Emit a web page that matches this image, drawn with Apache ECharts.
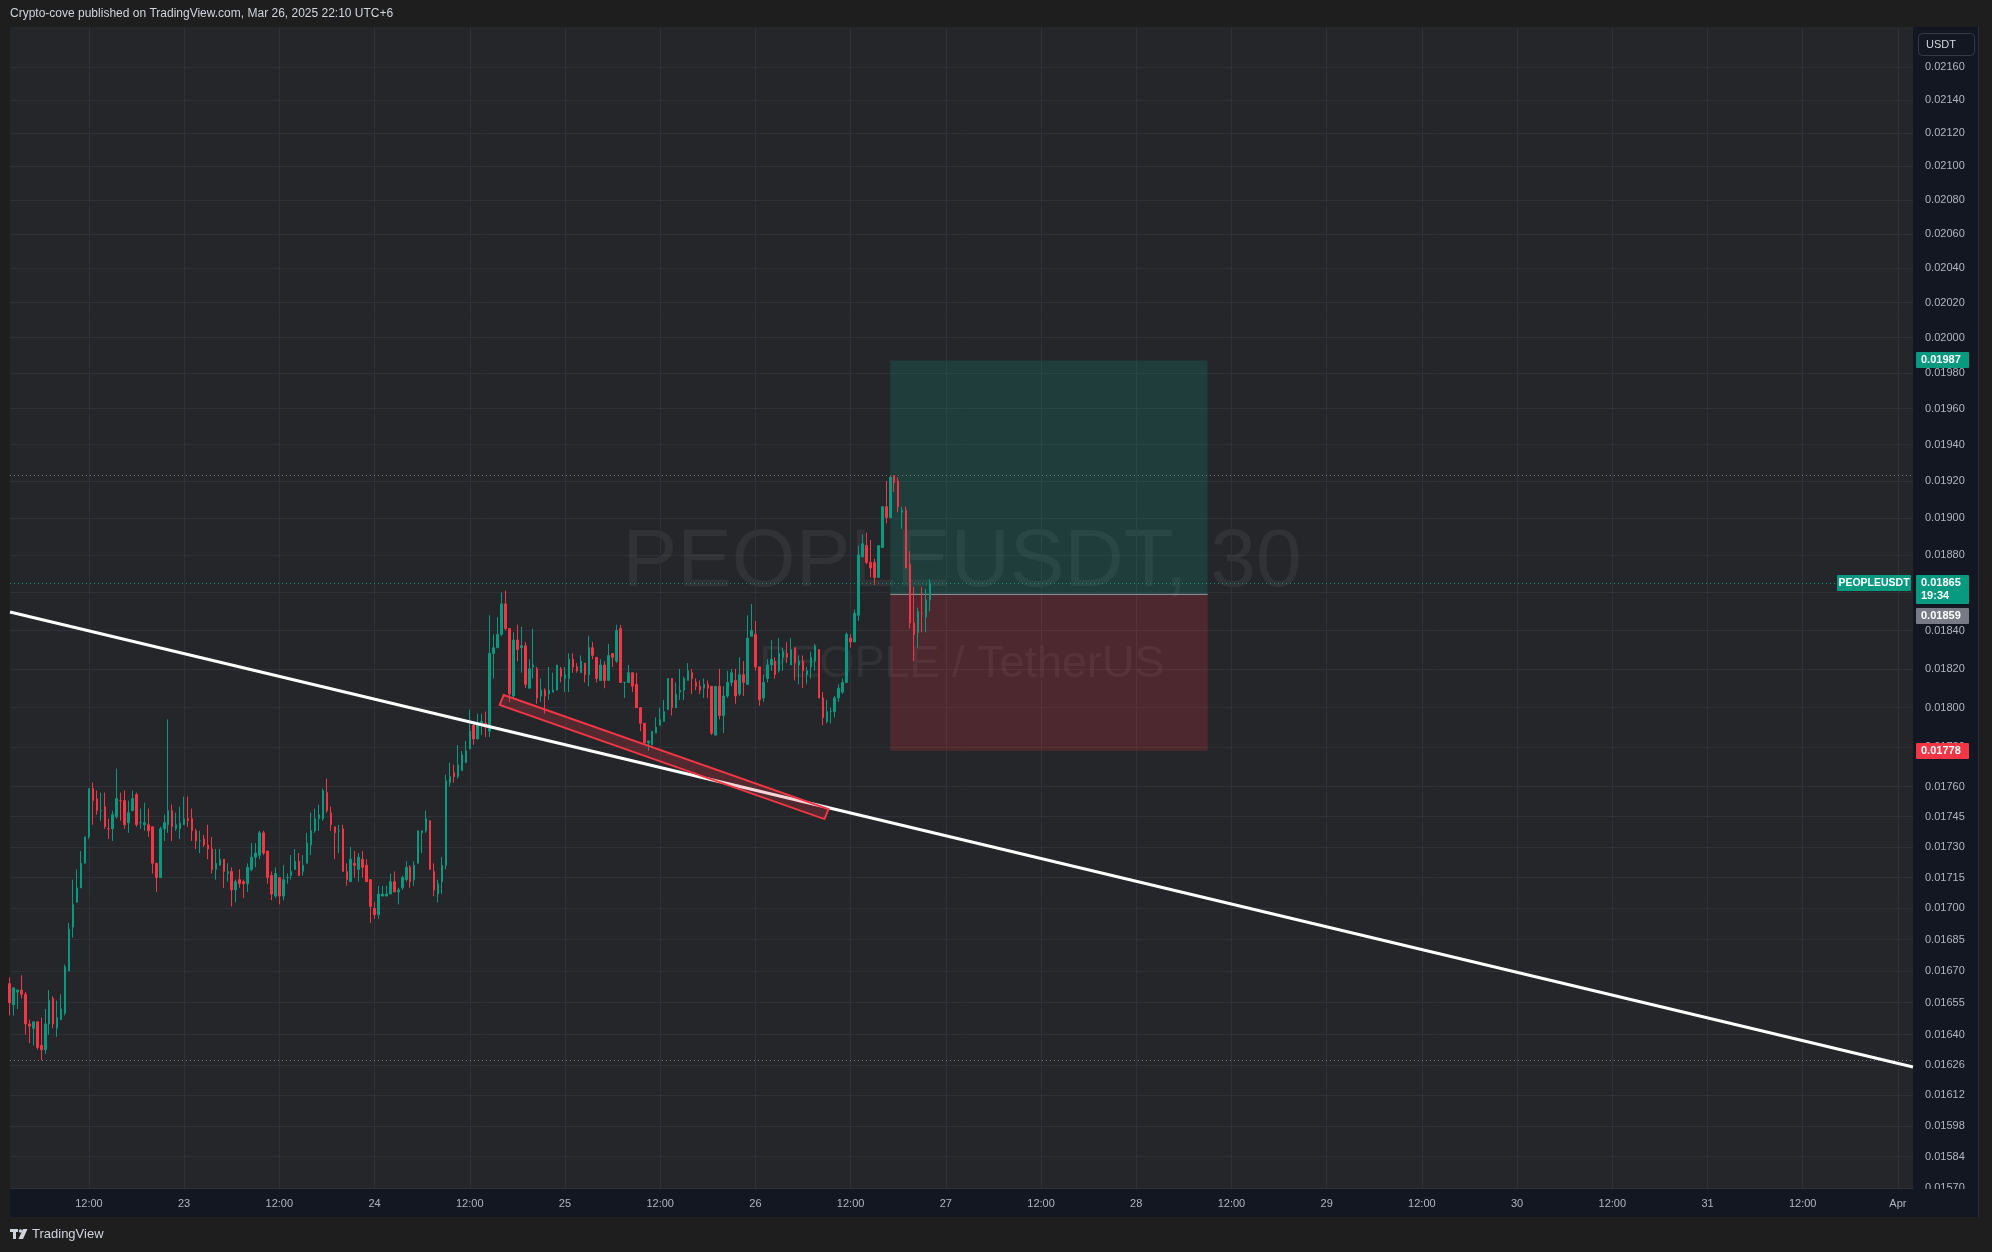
<!DOCTYPE html>
<html><head><meta charset="utf-8">
<script src="https://cdn.jsdelivr.net/npm/echarts@6/dist/echarts.min.js"></script>
<style>html,body{margin:0;padding:0;background:#1e1e1e;}#c{width:1992px;height:1252px;}</style>
</head><body><div id="c"></div>
<script>
// ---- DATA ----
// bars are 30-minute slots counted from 2025-03-22 00:00 (UTC+6)
const firstBar = 4;
const opens = [
0.01664,0.01654,0.01660,0.01661,0.01659,0.01645,0.01643,0.01646,0.01635,0.01633,
0.01645,0.01657,0.01643,0.01647,0.01650,0.01670,0.01691,0.01703,0.01710,0.01722,
0.01735,0.01759,0.01754,0.01748,0.01750,0.01739,0.01739,0.01745,0.01753,0.01753,
0.01742,0.01748,0.01756,0.01742,0.01741,0.01741,0.01740,0.01722,0.01715,0.01739,
0.01741,0.01748,0.01739,0.01739,0.01741,0.01744,0.01744,0.01738,0.01733,0.01734,
0.01731,0.01729,0.01719,0.01721,0.01724,0.01717,0.01718,0.01709,0.01714,0.01713,
0.01712,0.01719,0.01725,0.01726,0.01737,0.01728,0.01716,0.01706,0.01715,0.01706,
0.01715,0.01716,0.01719,0.01723,0.01718,0.01722,0.01731,0.01738,0.01744,0.01744,
0.01757,0.01747,0.01740,0.01738,0.01739,0.01718,0.01713,0.01722,0.01719,0.01724,
0.01721,0.01714,0.01700,0.01697,0.01706,0.01706,0.01707,0.01713,0.01708,0.01710,
0.01714,0.01720,0.01714,0.01722,0.01737,0.01738,0.01743,0.01718,0.01707,0.01713,
0.01721,0.01762,0.01767,0.01765,0.01768,0.01772,0.01779,0.01791,0.01784,0.01792,
0.01792,0.01788,0.01828,0.01831,0.01838,0.01854,0.01841,0.01806,0.01835,0.01831,
0.01832,0.01810,0.01821,0.01820,0.01806,0.01809,0.01807,0.01808,0.01809,0.01820,
0.01815,0.01815,0.01825,0.01821,0.01818,0.01823,0.01817,0.01831,0.01826,0.01814,
0.01822,0.01814,0.01828,0.01824,0.01841,0.01813,0.01813,0.01818,0.01812,0.01800,
0.01792,0.01782,0.01781,0.01787,0.01791,0.01793,0.01799,0.01815,0.01800,0.01808,
0.01809,0.01814,0.01818,0.01813,0.01811,0.01810,0.01812,0.01811,0.01786,0.01811,
0.01796,0.01806,0.01813,0.01814,0.01807,0.01817,0.01812,0.01837,0.01838,0.01821,
0.01805,0.01815,0.01822,0.01824,0.01819,0.01826,0.01828,0.01822,0.01831,0.01822,
0.01824,0.01817,0.01821,0.01824,0.01830,0.01805,0.01793,0.01798,0.01798,0.01805,
0.01808,0.01813,0.01836,0.01834,0.01848,0.01879,0.01885,0.01876,0.01876,0.01868,
0.01884,0.01906,0.01900,0.01923,0.01920,0.01903,0.01904,0.01875,0.01844,0.01839,
0.01849,0.01847,0.01856];
const highs = [
0.01667,0.01662,0.01661,0.01668,0.01660,0.01647,0.01646,0.01646,0.01648,0.01652,
0.01661,0.01658,0.01656,0.01659,0.01673,0.01693,0.01714,0.01719,0.01728,0.01735,
0.01759,0.01762,0.01758,0.01757,0.01757,0.01744,0.01748,0.01769,0.01757,0.01758,
0.01753,0.01758,0.01757,0.01749,0.01752,0.01749,0.01740,0.01722,0.01740,0.01746,
0.01794,0.01751,0.01747,0.01750,0.01755,0.01755,0.01749,0.01739,0.01738,0.01736,
0.01741,0.01735,0.01729,0.01729,0.01724,0.01722,0.01720,0.01714,0.01719,0.01714,
0.01722,0.01732,0.01732,0.01738,0.01738,0.01728,0.01718,0.01720,0.01715,0.01721,
0.01717,0.01726,0.01729,0.01727,0.01726,0.01737,0.01747,0.01749,0.01751,0.01759,
0.01764,0.01750,0.01740,0.01741,0.01741,0.01722,0.01730,0.01728,0.01727,0.01728,
0.01724,0.01714,0.01703,0.01711,0.01711,0.01711,0.01717,0.01718,0.01710,0.01716,
0.01723,0.01721,0.01723,0.01738,0.01738,0.01748,0.01743,0.01722,0.01714,0.01725,
0.01766,0.01772,0.01771,0.01781,0.01778,0.01783,0.01799,0.01793,0.01797,0.01797,
0.01798,0.01848,0.01838,0.01847,0.01860,0.01861,0.01841,0.01839,0.01843,0.01842,
0.01834,0.01825,0.01841,0.01821,0.01815,0.01810,0.01821,0.01818,0.01822,0.01821,
0.01821,0.01828,0.01828,0.01823,0.01827,0.01823,0.01837,0.01834,0.01826,0.01825,
0.01824,0.01833,0.01828,0.01843,0.01843,0.01813,0.01822,0.01818,0.01818,0.01800,
0.01792,0.01783,0.01788,0.01795,0.01800,0.01804,0.01815,0.01815,0.01813,0.01820,
0.01816,0.01823,0.01820,0.01815,0.01814,0.01815,0.01814,0.01811,0.01811,0.01820,
0.01811,0.01819,0.01820,0.01820,0.01826,0.01824,0.01848,0.01854,0.01845,0.01821,
0.01817,0.01825,0.01835,0.01826,0.01836,0.01831,0.01834,0.01836,0.01831,0.01827,
0.01827,0.01821,0.01829,0.01833,0.01830,0.01808,0.01804,0.01800,0.01806,0.01812,
0.01815,0.01839,0.01838,0.01851,0.01885,0.01891,0.01892,0.01888,0.01878,0.01885,
0.01906,0.01920,0.01923,0.01923,0.01922,0.01906,0.01906,0.01882,0.01863,0.01852,
0.01863,0.01862,0.01867];
const lows = [
0.01649,0.01649,0.01652,0.01657,0.01640,0.01636,0.01635,0.01633,0.01628,0.01631,
0.01640,0.01643,0.01639,0.01647,0.01649,0.01670,0.01686,0.01703,0.01710,0.01722,
0.01734,0.01741,0.01746,0.01743,0.01739,0.01734,0.01733,0.01744,0.01743,0.01739,
0.01737,0.01748,0.01740,0.01739,0.01738,0.01735,0.01717,0.01708,0.01715,0.01733,
0.01737,0.01733,0.01738,0.01734,0.01741,0.01740,0.01733,0.01729,0.01727,0.01730,
0.01724,0.01717,0.01714,0.01721,0.01710,0.01713,0.01701,0.01703,0.01710,0.01705,
0.01708,0.01718,0.01720,0.01724,0.01726,0.01712,0.01704,0.01705,0.01702,0.01704,
0.01712,0.01714,0.01719,0.01716,0.01716,0.01722,0.01726,0.01737,0.01738,0.01743,
0.01747,0.01738,0.01724,0.01727,0.01718,0.01711,0.01713,0.01715,0.01713,0.01715,
0.01713,0.01693,0.01695,0.01695,0.01706,0.01706,0.01707,0.01708,0.01702,0.01709,
0.01713,0.01710,0.01711,0.01722,0.01727,0.01737,0.01719,0.01706,0.01703,0.01707,
0.01719,0.01760,0.01762,0.01764,0.01768,0.01772,0.01779,0.01781,0.01784,0.01786,
0.01785,0.01785,0.01815,0.01831,0.01837,0.01840,0.01803,0.01805,0.01824,0.01818,
0.01810,0.01810,0.01815,0.01802,0.01803,0.01797,0.01804,0.01808,0.01809,0.01813,
0.01808,0.01808,0.01818,0.01818,0.01818,0.01813,0.01811,0.01825,0.01813,0.01814,
0.01810,0.01814,0.01821,0.01823,0.01813,0.01805,0.01813,0.01808,0.01800,0.01788,
0.01782,0.01778,0.01781,0.01787,0.01791,0.01793,0.01799,0.01796,0.01800,0.01804,
0.01804,0.01814,0.01807,0.01809,0.01807,0.01805,0.01805,0.01786,0.01786,0.01794,
0.01787,0.01805,0.01811,0.01802,0.01806,0.01806,0.01812,0.01837,0.01819,0.01801,
0.01803,0.01813,0.01819,0.01815,0.01818,0.01819,0.01823,0.01822,0.01814,0.01812,
0.01810,0.01812,0.01815,0.01819,0.01805,0.01791,0.01792,0.01792,0.01795,0.01803,
0.01807,0.01813,0.01831,0.01834,0.01845,0.01879,0.01875,0.01868,0.01864,0.01868,
0.01884,0.01897,0.01900,0.01914,0.01903,0.01894,0.01873,0.01841,0.01824,0.01831,
0.01839,0.01839,0.01850];
const closes = [
0.01655,0.01662,0.01661,0.01659,0.01645,0.01644,0.01646,0.01634,0.01633,0.01645,
0.01656,0.01645,0.01648,0.01652,0.01672,0.01690,0.01702,0.01710,0.01722,0.01735,
0.01759,0.01753,0.01748,0.01748,0.01740,0.01739,0.01746,0.01754,0.01753,0.01741,
0.01747,0.01754,0.01741,0.01742,0.01742,0.01738,0.01722,0.01715,0.01739,0.01742,
0.01748,0.01740,0.01741,0.01742,0.01744,0.01743,0.01738,0.01733,0.01733,0.01731,
0.01729,0.01719,0.01722,0.01724,0.01718,0.01718,0.01709,0.01713,0.01712,0.01712,
0.01720,0.01725,0.01727,0.01737,0.01727,0.01715,0.01707,0.01717,0.01706,0.01714,
0.01715,0.01718,0.01723,0.01716,0.01721,0.01732,0.01738,0.01744,0.01746,0.01758,
0.01748,0.01741,0.01737,0.01738,0.01718,0.01714,0.01724,0.01721,0.01725,0.01720,
0.01713,0.01701,0.01697,0.01707,0.01707,0.01707,0.01713,0.01708,0.01709,0.01715,
0.01720,0.01713,0.01721,0.01738,0.01738,0.01744,0.01719,0.01709,0.01712,0.01721,
0.01763,0.01765,0.01765,0.01771,0.01776,0.01778,0.01788,0.01784,0.01792,0.01793,
0.01790,0.01828,0.01831,0.01838,0.01854,0.01841,0.01807,0.01835,0.01830,0.01832,
0.01812,0.01820,0.01822,0.01805,0.01809,0.01806,0.01809,0.01809,0.01822,0.01816,
0.01817,0.01825,0.01821,0.01819,0.01824,0.01817,0.01831,0.01827,0.01815,0.01822,
0.01814,0.01827,0.01826,0.01840,0.01813,0.01813,0.01818,0.01811,0.01800,0.01792,
0.01782,0.01783,0.01788,0.01790,0.01794,0.01798,0.01815,0.01800,0.01807,0.01809,
0.01815,0.01819,0.01815,0.01811,0.01809,0.01812,0.01810,0.01787,0.01811,0.01796,
0.01806,0.01813,0.01818,0.01806,0.01817,0.01813,0.01836,0.01840,0.01821,0.01804,
0.01813,0.01822,0.01825,0.01817,0.01828,0.01829,0.01826,0.01830,0.01823,0.01824,
0.01819,0.01819,0.01826,0.01832,0.01805,0.01795,0.01798,0.01798,0.01805,0.01810,
0.01813,0.01838,0.01834,0.01849,0.01880,0.01886,0.01876,0.01873,0.01868,0.01885,
0.01906,0.01900,0.01922,0.01919,0.01906,0.01904,0.01873,0.01844,0.01838,0.01850,
0.01849,0.01856,0.01865];

const xTickSlots = [24,48,72,96,120,144,168,192,216,240,264,288,312,336,360,384,408,432,456,480];
const xTickLabels = ['12:00','23','12:00','24','12:00','25','12:00','26','12:00','27','12:00','28','12:00','29','12:00','30','12:00','31','12:00','Apr'];
const yTickPrices = [0.02160,0.02140,0.02120,0.02100,0.02080,0.02060,0.02040,0.02020,0.02000,0.01980,
  0.01960,0.01940,0.01920,0.01900,0.01880,0.01860,0.01840,0.01820,0.01800,0.01780,0.01760,0.01745,
  0.01730,0.01715,0.01700,0.01685,0.01670,0.01655,0.01640,0.01626,0.01612,0.01598,0.01584,0.01570];

const viewSlots = [4.11, 483.8];           // visible time range (slots)
const viewPrices = [0.015695, 0.021849];  // visible price range (log scale)

const symbolName = 'PEOPLEUSDT';
const lastPrice = 0.01865, countdown = '19:34';
const entryPrice = 0.01859, targetPrice = 0.01987, stopPrice = 0.01778;
const positionSlots = [226, 306];
const trendSlots = [4.11, 483.8], trendPrices = [0.018497, 0.01625];
const channelSlots = [128.56, 210.42, 209.42, 127.55];
const channelPrices = [0.018065, 0.017488, 0.017438, 0.018014];

// ---- CHART ----
const FONT = '"Liberation Sans", Arial, sans-serif';
const L = Math.log;
const bars = opens.map((o, k) => [firstBar + k, L(o), L(closes[k]), L(lows[k]), L(highs[k])]);
const hiPrice = Math.max(...highs), loPrice = Math.min(...lows);
const xLabelMap = new Map(xTickSlots.map((s, k) => [s, xTickLabels[k]]));
const yTickLn = yTickPrices.map(L);
const GREEN = '#089981', RED = '#f23645', GRAY = '#787b86';

const staticGraphics = [
  {type: 'text', left: 10, top: 8, z: 5, style: {text: 'Crypto-cove published on TradingView.com, Mar 26, 2025 22:10 UTC+6',
    fill: '#d1d4dc', font: '12px ' + FONT}},
  {type: 'rect', z: 0, shape: {x: 1913, y: 27, width: 65, height: 1163}, style: {fill: '#131722'}},
  {type: 'rect', z: 2, shape: {x: 10, y: 1189, width: 1968, height: 28}, style: {fill: '#131722'}},
  {type: 'line', z: 2, shape: {x1: 1978.5, y1: 27, x2: 1978.5, y2: 1217}, style: {stroke: '#2a2e39', lineWidth: 1}},
  {type: 'rect', z: 2, shape: {x: 1918.5, y: 33.5, width: 56, height: 22, r: 4}, style: {fill: '#131722', stroke: '#363a45', lineWidth: 1}},
  {type: 'text', z: 3, x: 1926, y: 44.5, style: {text: 'USDT', fill: '#d1d4dc', font: '11px ' + FONT, verticalAlign: 'middle'}},
  {type: 'text', z: 3, x: 962, y: 563, style: {text: 'PEOPLEUSDT, 30', fill: 'rgba(255,255,255,0.06)',
    font: '82px ' + FONT, align: 'center', verticalAlign: 'middle'}},
  {type: 'text', z: 3, x: 962, y: 665, style: {text: 'PEOPLE / TetherUS', fill: 'rgba(255,255,255,0.06)',
    font: '45px ' + FONT, align: 'center', verticalAlign: 'middle'}},
  // TradingView logo
  {type: 'rect', z: 5, shape: {x: 10, y: 1229, width: 8, height: 3}, style: {fill: '#d1d4dc'}},
  {type: 'rect', z: 5, shape: {x: 13, y: 1229, width: 3, height: 10}, style: {fill: '#d1d4dc'}},
  {type: 'circle', z: 5, shape: {cx: 20.5, cy: 1231, r: 1.7}, style: {fill: '#d1d4dc'}},
  {type: 'polygon', z: 5, shape: {points: [[23, 1229], [27.5, 1229], [23, 1239], [18.5, 1239]]}, style: {fill: '#d1d4dc'}},
  {type: 'text', z: 5, x: 32, y: 1234, style: {text: 'TradingView', fill: '#d1d4dc', font: '13px ' + FONT, verticalAlign: 'middle'}}
];

const option = {
  animation: false,
  backgroundColor: '#1e1e1e',
  grid: {left: 10, right: 79, top: 27, bottom: 63, show: true, backgroundColor: '#25262a',
    borderWidth: 0, z: 0, containLabel: false, outerBoundsMode: 'none'},
  xAxis: {
    type: 'value', min: viewSlots[0], max: viewSlots[1], z: 3,
    axisLine: {show: false},
    axisTick: {show: false, customValues: xTickSlots},
    axisLabel: {customValues: xTickSlots, formatter: v => xLabelMap.get(Math.round(v)) || '',
      color: '#b2b5be', fontSize: 11, fontFamily: FONT, margin: 9},
    splitLine: {show: true, lineStyle: {color: '#303136', width: 1}}
  },
  yAxis: {
    type: 'value', position: 'right', min: L(viewPrices[0]), max: L(viewPrices[1]), z: 1,
    axisLine: {show: false},
    axisTick: {show: false, customValues: yTickLn},
    axisLabel: {customValues: yTickLn, formatter: v => Math.exp(v).toFixed(5),
      color: '#b2b5be', fontSize: 11, fontFamily: FONT, margin: 12},
    splitLine: {show: true, lineStyle: {color: '#303136', width: 1}}
  },
  graphic: {elements: staticGraphics.slice()},
  series: [
    { // long position tool
      type: 'custom', z: 4, clip: true, silent: true,
      data: [[positionSlots[0], positionSlots[1], L(entryPrice), L(targetPrice), L(stopPrice)]],
      renderItem: (params, api) => {
        const tl = api.coord([api.value(0), api.value(3)]);
        const e1 = api.coord([api.value(0), api.value(2)]);
        const e2 = api.coord([api.value(1), api.value(2)]);
        const br = api.coord([api.value(1), api.value(4)]);
        return {type: 'group', children: [
          {type: 'rect', shape: {x: tl[0], y: tl[1], width: e2[0] - tl[0], height: e1[1] - tl[1]}, style: {fill: 'rgba(8,153,129,0.2)'}},
          {type: 'rect', shape: {x: e1[0], y: e1[1], width: br[0] - e1[0], height: br[1] - e1[1]}, style: {fill: 'rgba(242,54,69,0.2)'}},
          {type: 'line', shape: {x1: e1[0], y1: e1[1], x2: e2[0], y2: e2[1]}, style: {stroke: '#9598a1', lineWidth: 1}}
        ]};
      }
    },
    {
      type: 'candlestick', z: 5, data: bars, encode: {x: 0, y: [1, 2, 3, 4]},
      barWidth: 2,
      itemStyle: {color: GREEN, color0: RED, borderColor: GREEN, borderColor0: RED, borderWidth: 1}
    },
    { // trend line
      type: 'line', z: 7, clip: true, symbol: 'none', silent: true,
      data: [[trendSlots[0], L(trendPrices[0])], [trendSlots[1], L(trendPrices[1])]],
      lineStyle: {color: '#ffffff', width: 3}
    },
    { // rotated rectangle
      type: 'custom', z: 8, clip: true, silent: true,
      data: [[].concat(...channelSlots.map((s, k) => [s, L(channelPrices[k])]))],
      renderItem: (params, api) => {
        const pts = [0, 1, 2, 3].map(k => api.coord([api.value(2 * k), api.value(2 * k + 1)]));
        return {type: 'polygon', shape: {points: pts}, style: {fill: 'rgba(242,54,69,0.22)', stroke: RED, lineWidth: 2}};
      }
    },
    { // high / low / last price lines
      type: 'line', z: 6, data: [], silent: true,
      markLine: {
        silent: true, symbol: ['none', 'none'], animation: false, label: {show: false}, precision: 12,
        data: [
          {yAxis: L(hiPrice), precision: 12, lineStyle: {color: GRAY, type: [1, 3], width: 1}},
          {yAxis: L(loPrice), precision: 12, lineStyle: {color: GRAY, type: [1, 3], width: 1}},
          {yAxis: L(lastPrice), precision: 12, lineStyle: {color: GREEN, type: [1, 3], width: 1}}
        ]
      }
    }
  ]
};

const chart = echarts.init(document.getElementById('c'), null, {renderer: 'canvas'});
chart.setOption(option);

// axis price tags, placed through the y scale
const yPix = p => chart.convertToPixel({yAxisIndex: 0}, L(p));
const tagEls = [];
function axisTag(price, lines, bg, shiftY) {
  const yc = yPix(price) + (shiftY || 0);
  const h = 16 + (lines.length - 1) * 13;
  const top = yc - 8;
  tagEls.push({type: 'rect', z: 20, shape: {x: 1916, y: Math.round(top), width: 53, height: h, r: 1}, style: {fill: bg}});
  lines.forEach((t, k) => tagEls.push({type: 'text', z: 21, x: 1921, y: Math.round(top) + 8 + k * 13,
    style: {text: t, fill: '#ffffff', font: 'bold 11px ' + FONT, verticalAlign: 'middle'}}));
}
axisTag(targetPrice, [targetPrice.toFixed(5)], GREEN, 0);
axisTag(stopPrice, [stopPrice.toFixed(5)], RED, 0);
axisTag(lastPrice, [lastPrice.toFixed(5), countdown], GREEN, 0);
axisTag(entryPrice, [entryPrice.toFixed(5)], GRAY, 22);
const yLast = Math.round(yPix(lastPrice));
tagEls.push({type: 'rect', z: 20, shape: {x: 1837, y: yLast - 8, width: 74, height: 16, r: 1}, style: {fill: GREEN}});
tagEls.push({type: 'text', z: 21, x: 1874, y: yLast, style: {text: symbolName, fill: '#ffffff',
  font: 'bold 10.5px ' + FONT, align: 'center', verticalAlign: 'middle'}});

option.graphic = {elements: staticGraphics.concat(tagEls)};
chart.setOption(option, true);
</script>
</body></html>
